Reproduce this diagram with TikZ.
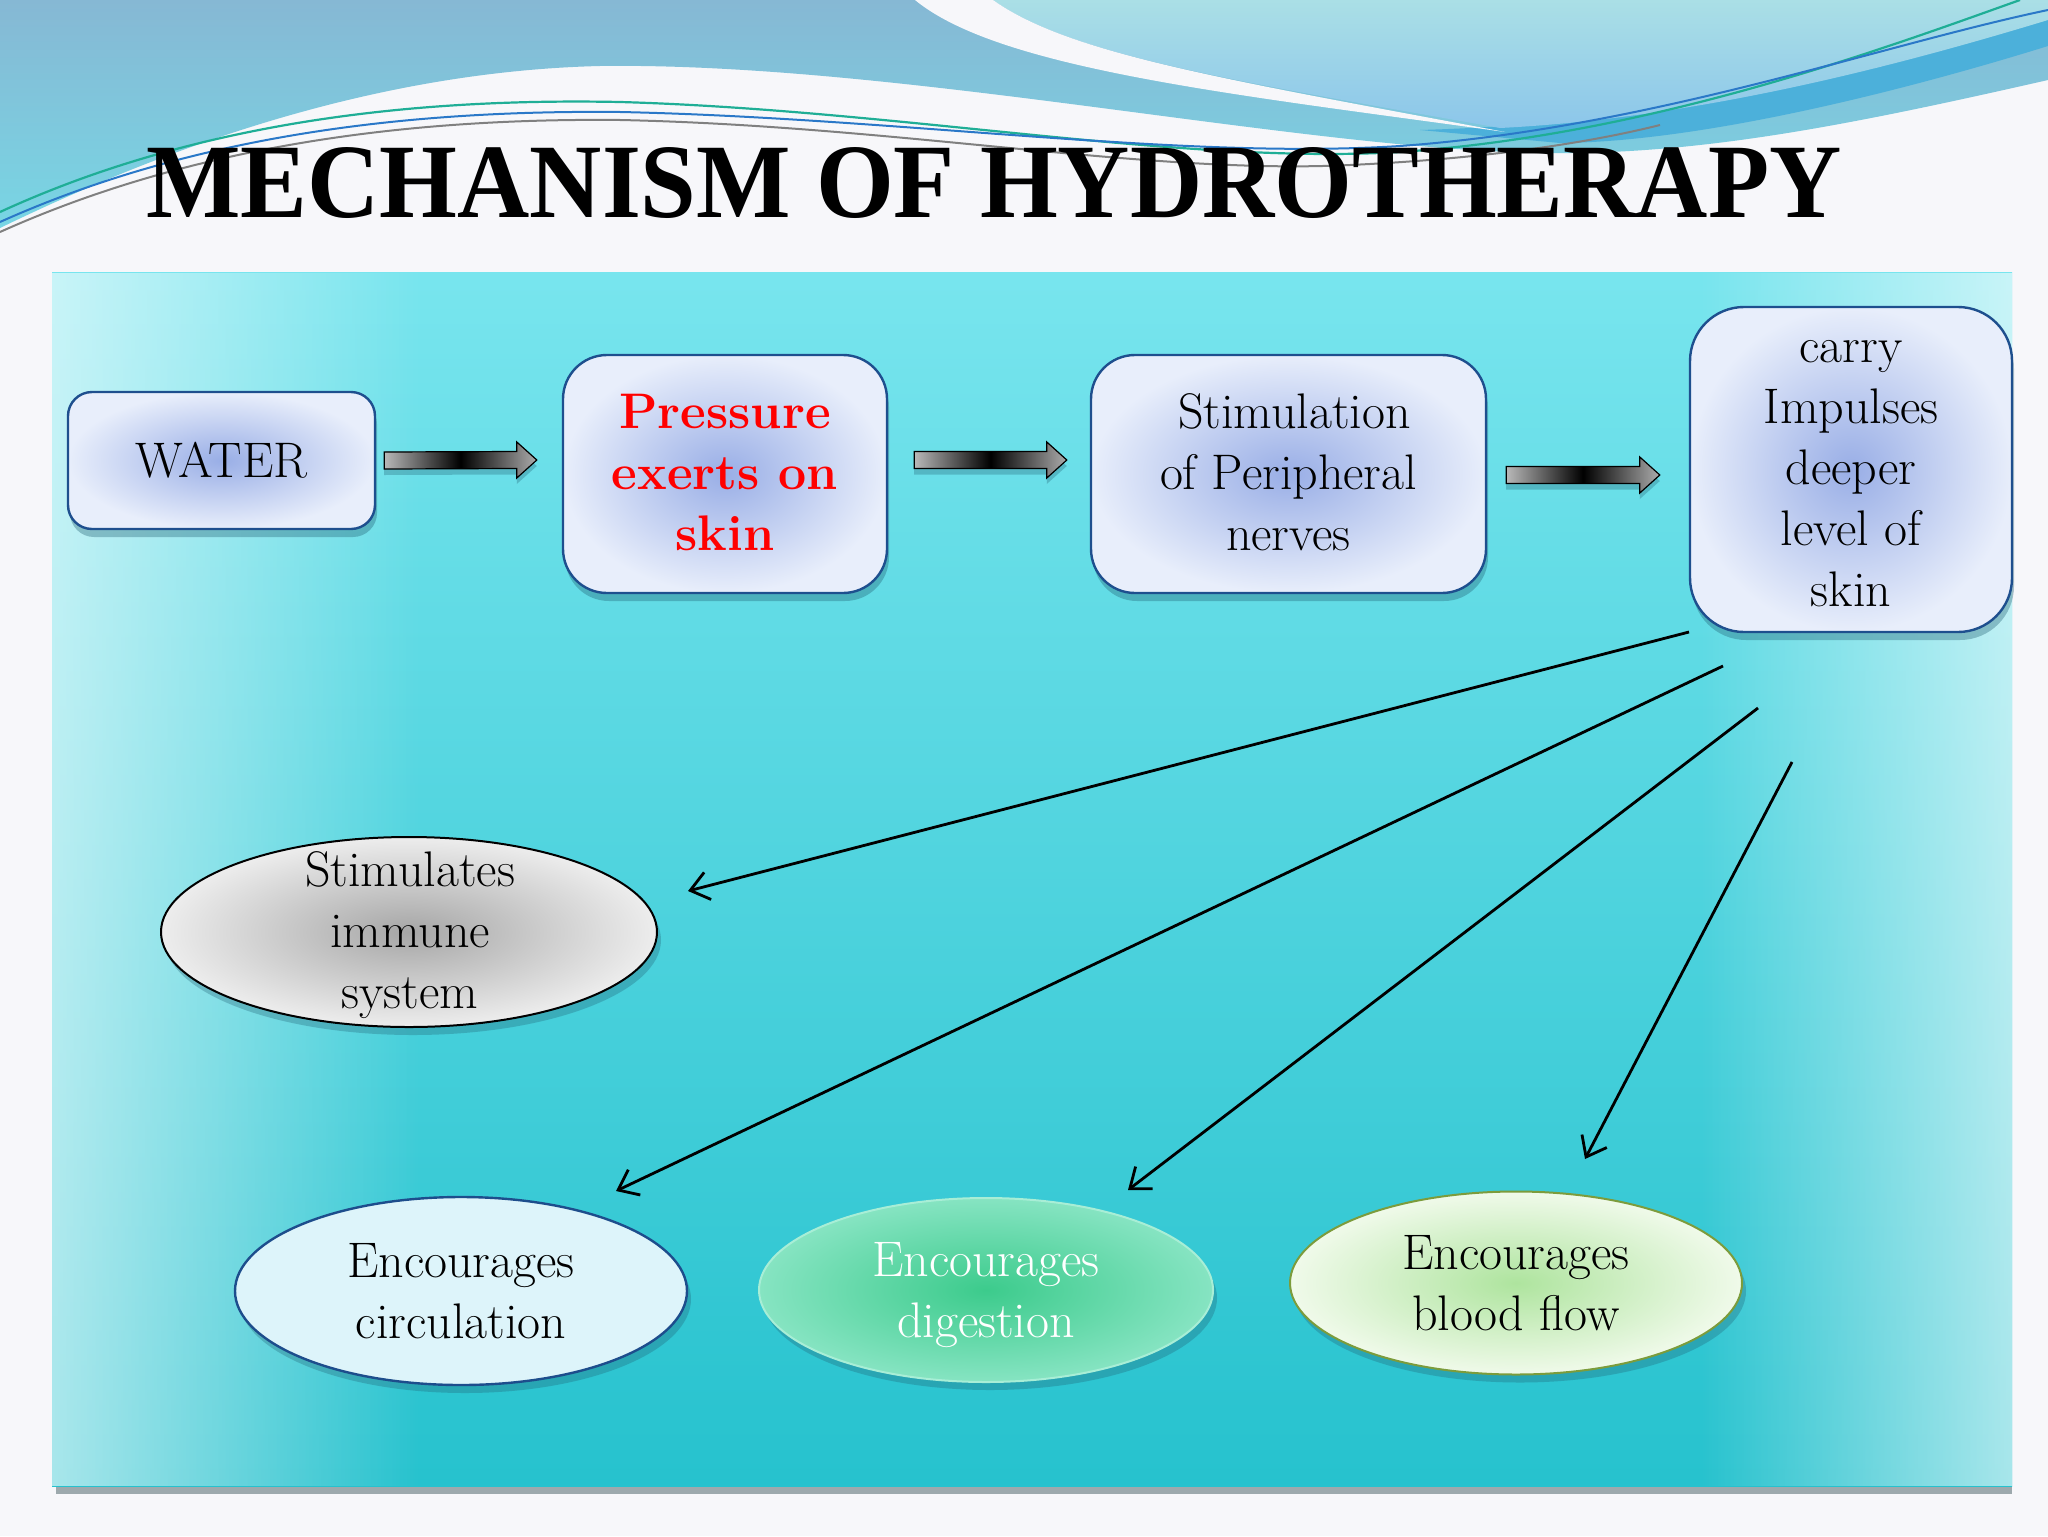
\documentclass[tikz,border=0pt]{standalone}
\usepackage{graphicx}
\usepackage{fontspec}
\newfontfamily\titlefont{Liberation Serif}
\usetikzlibrary{shapes.geometric,arrows.meta,calc,shadows,fadings}
\definecolor{bgw}{HTML}{F7F7FA}
\definecolor{decoAtop}{HTML}{86B8D4}
\definecolor{decoAbot}{HTML}{78D6E4}
\definecolor{decoBtop}{HTML}{AADFE6}
\definecolor{decoBbot}{HTML}{8CC6EA}
\definecolor{decoStripe}{HTML}{4CB0DA}
\definecolor{lnTeal}{HTML}{1FAE96}
\definecolor{lnBlue}{HTML}{2A78C8}
\definecolor{panelTop}{HTML}{78E5EE}
\definecolor{panelBot}{HTML}{26C2CE}
\definecolor{boxIn}{HTML}{99AEE6}
\definecolor{boxOut}{HTML}{E8EEFB}
\definecolor{boxLine}{HTML}{1E4F8E}
\definecolor{grayIn}{HTML}{A6A6A6}
\definecolor{grayOut}{HTML}{EDEDED}
\definecolor{circFill}{HTML}{DDF4FA}
\definecolor{circLine}{HTML}{1D4D8C}
\definecolor{digIn}{HTML}{3CCB8C}
\definecolor{digOut}{HTML}{86E4C2}
\definecolor{digRim}{HTML}{A8EED6}
\definecolor{bloodIn}{HTML}{AEE49E}
\definecolor{bloodOut}{HTML}{F0FAEA}
\definecolor{bloodLine}{HTML}{7C9C3C}
\definecolor{shadowCol}{HTML}{1F5C70}
\newcommand\blockarr[2]{%
  \filldraw[blkarrow] ($(#1)+(0,-8.5)$) -- ($(#2)+(-20,-8.5)$) -- ($(#2)+(-20,-18)$) -- (#2)
    -- ($(#2)+(-20,18)$) -- ($(#2)+(-20,8.5)$) -- ($(#1)+(0,8.5)$) -- cycle;}
\begin{document}
\begin{tikzpicture}[x=0.5pt,y=-0.5pt,
  txt/.style={font=\fontsize{25}{30.5}\selectfont, align=center, inner sep=0pt},
  flowbox/.style={draw=boxLine, line width=1.2pt, inner color=boxIn, outer color=boxOut,
     inner sep=0pt, drop shadow={shadow xshift=1pt, shadow yshift=-4pt, opacity=0.35, fill=shadowCol}},
  oval/.style={ellipse, inner sep=0pt, drop shadow={shadow xshift=2pt, shadow yshift=-4pt, opacity=0.3, fill=shadowCol}},
  blkarrow/.style={left color=gray!55, right color=gray!65, middle color=black, draw=black, line width=0.6pt,
     drop shadow={shadow xshift=0pt, shadow yshift=-3pt, opacity=0.3, fill=shadowCol}},
  thinarrow/.style={draw=black, line width=1.4pt, -{Straight Barb[length=9pt,width=14pt]}}]
\useasboundingbox (0,0) rectangle (2048,1536);
\fill[bgw] (0,0) rectangle (2048,1536);

% ---- top decoration ----
\shade[top color=decoAtop, bottom color=decoAbot]
  (0,0) -- (2048,0) -- (2048,80) .. controls (1850,125) and (1700,155) .. (1545,153)
  .. controls (1300,150) and (900,62) .. (600,66) .. controls (350,72) and (130,165) .. (0,228) -- cycle;
\fill[decoStripe] (1420,130) .. controls (1700,122) and (1900,62) .. (2048,18) -- (2048,46)
  .. controls (1900,92) and (1700,142) .. (1560,143) -- cycle;
\shade[top color=decoBtop, bottom color=decoBbot]
  (993,0) .. controls (1070,55) and (1230,80) .. (1500,128) .. controls (1700,118) and (1900,65) .. (2048,20)
  -- (2048,0) -- cycle;
\fill[bgw] (915,0) .. controls (1000,70) and (1240,95) .. (1505,132)
  .. controls (1230,80) and (1070,55) .. (993,0) -- cycle;
\draw[lnTeal, line width=1.1pt] (0,212) .. controls (200,120) and (420,98) .. (620,102)
  .. controls (900,110) and (1180,165) .. (1400,152) .. controls (1650,135) and (1880,50) .. (2020,0);
\draw[lnBlue, line width=1pt] (0,222) .. controls (200,132) and (420,110) .. (620,112)
  .. controls (900,118) and (1180,160) .. (1400,146) .. controls (1650,128) and (1880,45) .. (2048,10);
\draw[gray, line width=1pt] (0,232) .. controls (200,142) and (420,118) .. (620,120)
  .. controls (900,126) and (1150,175) .. (1350,165) .. controls (1500,158) and (1600,140) .. (1660,125);

% ---- title ----
\node[anchor=base west, inner sep=0pt] (title) at (146,217)
  {\resizebox{847.5pt}{35pt}{\titlefont\bfseries MECHANISM OF HYDROTHERAPY}};

% ---- panel ----
\fill[gray!70!shadowCol, opacity=0.6] (56,1484) rectangle (2012,1494);
\shade[top color=panelTop, bottom color=panelBot] (52,272) rectangle (2012,1486);
\fill[white, opacity=0.6, path fading=east] (52,272) rectangle (420,1486);
\fill[white, opacity=0.6, path fading=west] (1700,272) rectangle (2012,1486);

% ---- top row of boxes ----
\node[flowbox, rounded corners=12pt, minimum width=153.5pt, minimum height=68.5pt] (water) at (221.5,460.5) {};
\node[txt] (waterT) at (water.center) {WATER};
\node[flowbox, rounded corners=22pt, minimum width=162pt, minimum height=119pt] (press) at (725,474) {};
\node[txt, text=red, font=\fontsize{25}{30.5}\selectfont\bfseries] (pressT) at (725,472) {Pressure\\exerts on\\skin};
\node[flowbox, rounded corners=22pt, minimum width=197.5pt, minimum height=119pt] (stim) at (1288.5,474) {};
\node[txt] (stimT) at (1288.5,472) {\hspace*{6pt}Stimulation\\of Peripheral\\nerves};
\node[flowbox, rounded corners=27pt, minimum width=161pt, minimum height=162.5pt] (carry) at (1851,469.5) {};
\node[txt] (carryT) at (1851,474) {carry\\Impulses\\deeper\\level of\\skin};

% ---- block arrows ----
\coordinate (a1s) at ($(water.east)+(8,0)$);
\coordinate (a1e) at ($(press.west)+(-25,-14)$);
\coordinate (a2s) at ($(press.east)+(26,-14)$);
\coordinate (a2e) at ($(stim.west)+(-23,-14)$);
\coordinate (a3s) at ($(stim.east)+(19,1)$);
\coordinate (a3e) at ($(carry.west)+(-29,5.5)$);
\blockarr{a1s}{a1e}
\blockarr{a2s}{a2e}
\blockarr{a3s}{a3e}

% ---- ellipses ----
\node[oval, draw=black, line width=1pt, inner color=grayIn, outer color=grayOut,
  minimum width=248pt, minimum height=95pt] (immune) at (409,932) {};
\node[txt] (immuneT) at (410,935) {Stimulates\\immune\\system};
\node[oval, draw=circLine, line width=1.2pt, fill=circFill,
  minimum width=226pt, minimum height=94pt] (circ) at (461,1291) {};
\node[txt] (circT) at (461,1291) {Encourages\\circulation};
\node[oval, draw=digRim, line width=1pt, inner color=digIn, outer color=digOut,
  minimum width=227pt, minimum height=92pt] (dig) at (986,1290) {};
\node[txt, text=white] (digT) at (986,1295) {Encourages\\digestion};
\node[oval, draw=bloodLine, line width=1pt, inner color=bloodIn, outer color=bloodOut,
  minimum width=226pt, minimum height=91.5pt] (blood) at (1516,1283) {};
\node[txt] (bloodT) at (1516,1283) {Encourages\\blood flow};

% ---- thin arrows ----
\coordinate (s1) at (1689,632);  \coordinate (t1) at (688,891);
\coordinate (s2) at (1723,666);  \coordinate (t2) at (616,1191);
\coordinate (s3) at (1758,708);  \coordinate (t3) at (1128,1190);
\coordinate (s4) at (1792,762);  \coordinate (t4) at (1585,1159);
\draw[thinarrow] (s1) -- (t1);
\draw[thinarrow] (s2) -- (t2);
\draw[thinarrow] (s3) -- (t3);
\draw[thinarrow] (s4) -- (t4);
\end{tikzpicture}
\end{document}
